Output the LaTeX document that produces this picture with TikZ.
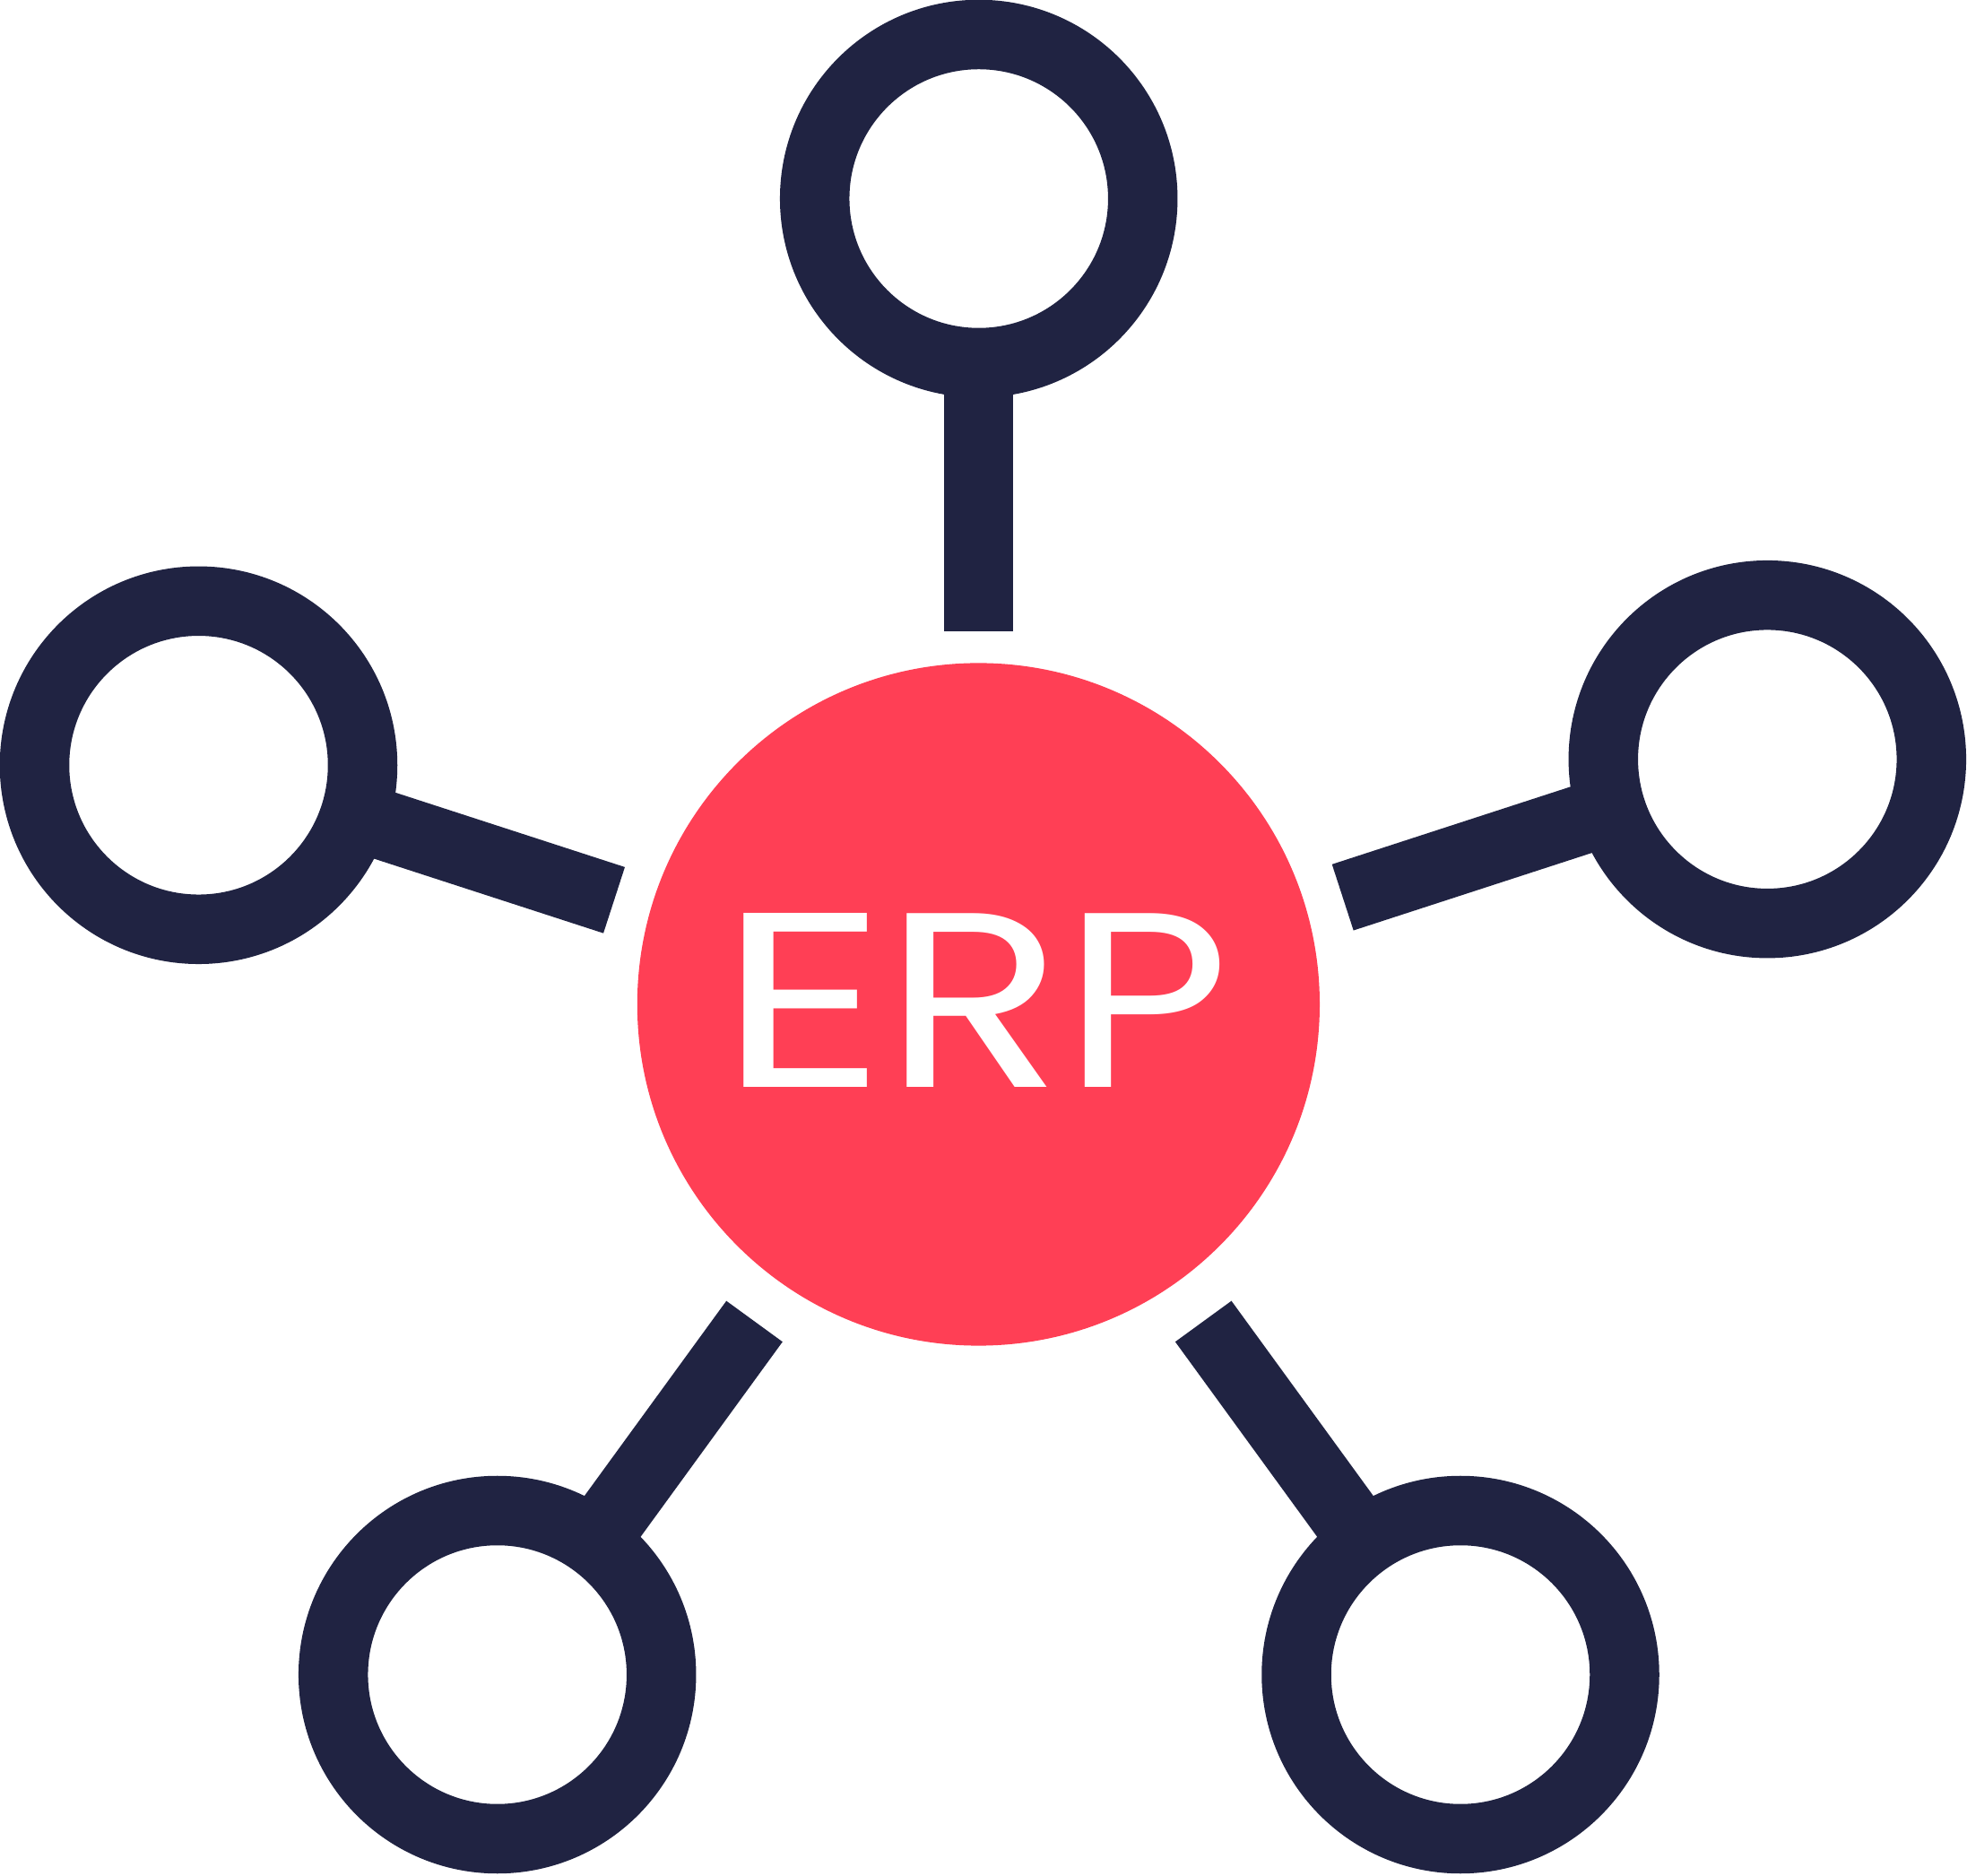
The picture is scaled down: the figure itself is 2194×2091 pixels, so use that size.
\documentclass[tikz,border=0pt]{standalone}
\usepackage{fontspec}
\usepackage{graphicx}
\newfontfamily\erpfont{Poppins}
\definecolor{navy}{HTML}{202342}
\definecolor{erpred}{HTML}{FF3F55}
\begin{document}
\begin{tikzpicture}[x=1pt,y=1pt,
  ring/.style={circle, draw=navy, line width=77.5pt, minimum size=366pt, inner sep=0pt, outer sep=0pt},
  stem/.style={draw=navy, line width=77.5pt},
  hub/.style={circle, fill=erpred, minimum size=761.2pt, inner sep=0pt, outer sep=0pt}]
\useasboundingbox (0,0) rectangle (2194,2091);
% hub
\node[hub] (hub) at (1091.4,971) {};
\node[anchor=base, text=white, inner sep=0pt, font=\erpfont\fontsize{278}{278}\selectfont] (erp) at (1087,878)
  {\scalebox{1.32}[1]{E}\kern-4pt\scalebox{1.18}[1]{R}\scalebox{1.16}[1]{P}};
% rings
\node[ring] (top) at (1091.7,1869.5) {};
\node[ring] (left) at (221.5,1237.7) {};
\node[ring] (right) at (1971.3,1244.3) {};
\node[ring] (bl) at (554.7,223.5) {};
\node[ring] (br) at (1629,223.5) {};
% stem ends
\coordinate (te) at (1091.7,1387.3);
\coordinate (le) at (685,1087.2);
\coordinate (re) at (1497.7,1090.3);
\coordinate (ble) at (841.5,617.5);
\coordinate (bre) at (1342.2,617.5);
% stems
\draw[stem] (top) -- (te);
\draw[stem] (left) -- (le);
\draw[stem] (right) -- (re);
\draw[stem] (bl) -- (ble);
\draw[stem] (br) -- (bre);
\end{tikzpicture}
\end{document}
